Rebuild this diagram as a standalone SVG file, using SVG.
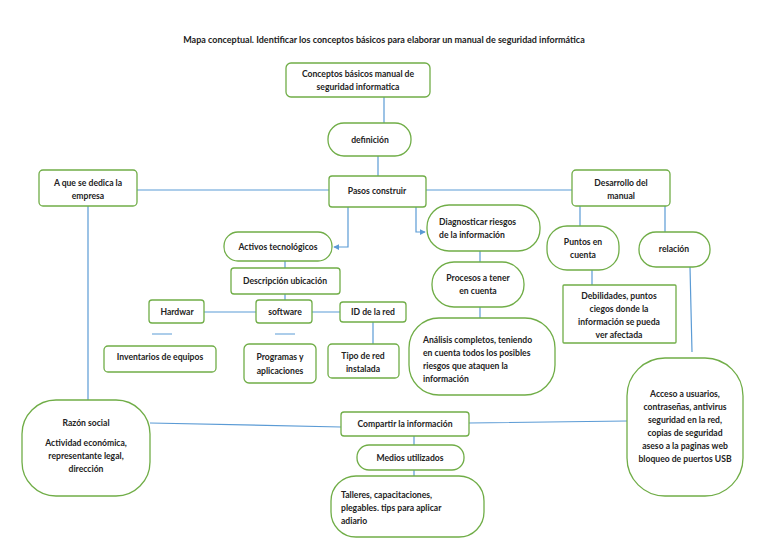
<svg xmlns="http://www.w3.org/2000/svg" width="768" height="543" viewBox="0 0 768 543">
<defs>
<style>
.n{fill:#fff;stroke:#70ad47;stroke-width:1.3}
.c{stroke:#5b9bd5;stroke-width:1.2;fill:none}
text{font-family:Lato,"Liberation Sans",sans-serif;font-size:8.6px;font-weight:bold;fill:#222;text-anchor:middle}
.l{text-anchor:start}
</style>
<marker id="a" viewBox="0 0 8 8" refX="7" refY="4" markerWidth="5" markerHeight="5" orient="auto"><path d="M0,0L8,4L0,8z" fill="#5b9bd5"/></marker>
</defs>
<rect width="768" height="543" fill="#fff"/>
<text x="384" y="43" style="font-size:9px">Mapa conceptual. Identificar los conceptos básicos para elaborar un manual de seguridad informática</text>
<g id="connectors">
<path class="c" d="M384,97V123M378,156V176M329,190H137M426,190H572M480,251V262M480,307V318M580,206V226M665,206V232M592,270V285M690,267L692,352M88,206V400M150,423L341,427M469,423L627,421M414,436V445M414,470V476M285,261V268M285,294V300M204,312H256M312,312H340M373,322V344M152,334H172M275,334H295"/>
<path class="c" d="M348,207V247H334" marker-end="url(#a)"/>
<path class="c" d="M416,207V232H425" marker-end="url(#a)"/>
</g>
<g id="n1"><rect class="n" x="286" y="63" width="144" height="34" rx="5"/><text x="358" y="77">Conceptos básicos manual de</text><text x="358" y="90">seguridad informatica</text></g>
<g id="n2"><rect class="n" x="328" y="123" width="83" height="33" rx="16"/><text x="370" y="143">definición</text></g>
<g id="n3"><rect class="n" x="329" y="176" width="97" height="31" rx="3"/><text x="377" y="194">Pasos construir</text></g>
<g id="n4"><rect class="n" x="39" y="170" width="98" height="36" rx="4"/><text x="88" y="186">A que se dedica la</text><text x="88" y="199">empresa</text></g>
<g id="n5"><rect class="n" x="572" y="170" width="98" height="36" rx="4"/><text x="621" y="186">Desarrollo del</text><text x="621" y="199">manual</text></g>
<g id="n6"><rect class="n" x="427" y="205" width="113" height="46" rx="22"/><text class="l" x="439" y="225">Diagnosticar riesgos</text><text class="l" x="439" y="238">de la información</text></g>
<g id="n7"><rect class="n" x="224" y="232" width="108" height="29" rx="14"/><text x="278" y="250">Activos tecnológicos</text></g>
<g id="n8"><rect class="n" x="231" y="268" width="109" height="26" rx="3"/><text x="285" y="284">Descripción ubicación</text></g>
<g id="n9"><rect class="n" x="149" y="300" width="55" height="23" rx="3"/><text x="177" y="315">Hardwar</text></g>
<g id="n10"><rect class="n" x="256" y="300" width="56" height="23" rx="3"/><text x="285" y="315">software</text></g>
<g id="n11"><rect class="n" x="340" y="302" width="66" height="20" rx="3"/><text x="373" y="315">ID de la red</text></g>
<g id="n12"><rect class="n" x="104" y="346" width="112" height="26" rx="4"/><text x="160" y="360">Inventarios de equipos</text></g>
<g id="n13"><rect class="n" x="244" y="344" width="72" height="39" rx="5"/><text x="280" y="360">Programas y</text><text x="280" y="374">aplicaciones</text></g>
<g id="n14"><rect class="n" x="328" y="344" width="71" height="34" rx="4"/><text x="363" y="359">Tipo de red</text><text x="363" y="372">instalada</text></g>
<g id="n15"><rect class="n" x="432" y="262" width="92" height="45" rx="22"/><text x="478" y="281">Procesos a tener</text><text x="478" y="294">en cuenta</text></g>
<g id="n16"><rect class="n" x="409" y="318" width="146" height="77" rx="30"/><text class="l" x="423" y="343">Análisis completos, teniendo</text><text class="l" x="423" y="356">en cuenta todos los posibles</text><text class="l" x="423" y="369">riesgos que ataquen la</text><text class="l" x="423" y="382">información</text></g>
<g id="n17"><rect class="n" x="547" y="226" width="72" height="44" rx="20"/><text x="583" y="245">Puntos en</text><text x="583" y="258">cuenta</text></g>
<g id="n18"><rect class="n" x="639" y="232" width="71" height="35" rx="17"/><text x="674" y="252">relación</text></g>
<g id="n19"><rect class="n" x="563" y="285" width="113" height="58" rx="1"/><text x="619" y="299">Debilidades, puntos</text><text x="619" y="312">ciegos donde la</text><text x="619" y="325">información se pueda</text><text x="619" y="338">ver afectada</text></g>
<g id="n20"><rect class="n" x="627" y="358" width="116" height="138" rx="38"/><text x="685" y="397">Acceso a usuarios,</text><text x="685" y="410">contraseñas, antivirus</text><text x="685" y="423">seguridad en la red,</text><text x="685" y="436">copias de seguridad</text><text x="685" y="449">aseso a la paginas web</text><text x="685" y="462">bloqueo de puertos USB</text></g>
<g id="n21"><rect class="n" x="22" y="400" width="128" height="96" rx="34"/><text x="86" y="426">Razón social</text><text x="86" y="446">Actividad económica,</text><text x="86" y="459">representante legal,</text><text x="86" y="472">dirección</text></g>
<g id="n22"><rect class="n" x="341" y="412" width="128" height="24" rx="3"/><text x="405" y="427">Compartir la información</text></g>
<g id="n23"><rect class="n" x="357" y="445" width="107" height="25" rx="12"/><text x="410" y="461">Medios utilizados</text></g>
<g id="n24"><rect class="n" x="331" y="476" width="153" height="61" rx="25"/><text class="l" x="341" y="498">Talleres, capacitaciones,</text><text class="l" x="341" y="511">plegables. tips para aplicar</text><text class="l" x="341" y="524">adiario</text></g>
</svg>
